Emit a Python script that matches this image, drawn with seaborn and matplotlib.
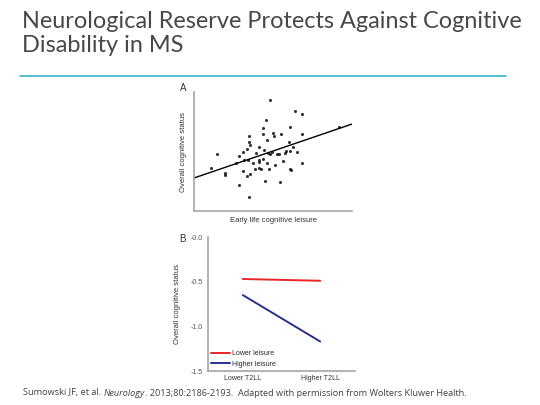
import numpy as np
import pandas as pd
import matplotlib
matplotlib.use("Agg")
import matplotlib.pyplot as plt
import seaborn as sns

# Panel A: early life cognitive leisure vs overall cognitive status
leisure = [228, 303, 322, 217, 208, 287, 435, 164, 208, 236, 238, 259, 322, 164, 218,
           68, 148, 158, 136, 168, 196, 211, 186, 222, 228, 235, 248, 255, 272, 276,
           283, 288, 295, 308, 150, 163, 176, 196, 196, 208, 126, 50, 94, 94, 148,
           159, 168, 182, 196, 200, 220, 226, 241, 265, 287, 289, 322, 136, 212, 258, 165]
cognition = [335, 301, 293, 273, 251, 253, 253, 227, 233, 235, 225, 231, 231, 207, 213,
             171, 177, 187, 165, 200, 193, 183, 173, 175, 171, 179, 171, 171, 173, 180,
             207, 180, 193, 177, 153, 153, 145, 153, 147, 157, 145, 129, 115, 109, 119,
             105, 111, 125, 129, 125, 145, 127, 139, 149, 125, 123, 143, 79, 91, 87, 43]

# Panel B: interaction of T2 lesion load and leisure
t2ll_levels = ["Lower T2LL", "Higher T2LL"]
lower_leisure = [-0.47, -0.49]
higher_leisure = [-0.65, -1.17]
b_yticks = [0.0, -0.5, -1.0, -1.5]
b_yticklabels = ["-0.0", "-0.5", "-1.0", "-1.5"]

sns.set_theme(style="white")
plt.rcParams["font.family"] = ["Liberation Sans", "DejaVu Sans"]

fig = plt.figure(figsize=(5.4, 4.05), dpi=100)
W, H = 540, 405

spine_col = "#a6a6a6"
text_col = "#404040"

# ---- title and rule ----
fig.text(22 / W, 1 - 22 / H, "Neurological Reserve Protects Against Cognitive",
         family=["Lato", "DejaVu Sans"], fontweight="normal", fontsize=16.9,
         color="#484848", va="center", ha="left")
fig.text(22 / W, 1 - 45 / H, "Disability in MS",
         family=["Lato", "DejaVu Sans"], fontweight="normal", fontsize=16.9,
         color="#484848", va="center", ha="left")
fig.add_artist(plt.Line2D([20 / W, 506 / W], [1 - 76 / H, 1 - 76 / H],
                          color="#3ab0c8", lw=1.2))

# ---- panel A ----
df_a = pd.DataFrame({"leisure": leisure, "cognition": cognition})
ax_a = fig.add_axes([194 / W, 1 - 211 / H, 158 / W, 119 / H])
ax_a.set_xlim(0, 473)
ax_a.set_ylim(0, 358)
sns.regplot(data=df_a, x="leisure", y="cognition", ax=ax_a, ci=None, truncate=False,
            scatter_kws={"s": 5, "color": "black", "linewidths": 0},
            line_kws={"color": "black", "lw": 1.0})
ax_a.set_xlim(0, 473)
ax_a.set_ylim(0, 358)
ax_a.set_xticks([])
ax_a.set_yticks([])
ax_a.set_xlabel("Early life cognitive leisure", fontsize=5.5, color="#333333", labelpad=4)
ax_a.set_ylabel("Overall cognitive status", fontsize=5.5, color="#333333", labelpad=5)
for side in ["top", "right"]:
    ax_a.spines[side].set_visible(False)
for side in ["left", "bottom"]:
    ax_a.spines[side].set_color(spine_col)
    ax_a.spines[side].set_linewidth(1.2)
fig.text(180 / W, 1 - 88 / H, "A", fontsize=7, color="#333333", va="center")

# ---- panel B ----
df_b = pd.DataFrame({
    "T2LL": t2ll_levels * 2,
    "status": lower_leisure + higher_leisure,
    "group": ["Lower leisure"] * 2 + ["Higher leisure"] * 2,
})
df_b["pos"] = df_b["T2LL"].map({lvl: i for i, lvl in enumerate(t2ll_levels)})
ax_b = fig.add_axes([208 / W, 1 - 371 / H, 147 / W, 134 / H])
sns.lineplot(data=df_b, x="pos", y="status", hue="group", ax=ax_b,
             palette={"Lower leisure": "#e8262b", "Higher leisure": "#27318b"},
             lw=1.4, legend=True)
ax_b.set_xlim(-0.45, 1.45)
ax_b.set_ylim(-1.5, 0.0)
ax_b.set_xticks(range(len(t2ll_levels)))
ax_b.set_xticklabels(t2ll_levels, fontsize=5, color="#333333")
ax_b.set_yticks(b_yticks)
ax_b.set_yticklabels(b_yticklabels, fontsize=5, color="#555555")
ax_b.tick_params(axis="y", direction="out", length=2, width=0.8, color=spine_col, pad=1.5)
ax_b.tick_params(axis="x", length=0, pad=3)
ax_b.set_xlabel("")
ax_b.set_ylabel("Overall cognitive status", fontsize=5.5, color="#333333", labelpad=7)
for side in ["top", "right"]:
    ax_b.spines[side].set_visible(False)
for side in ["left", "bottom"]:
    ax_b.spines[side].set_color(spine_col)
    ax_b.spines[side].set_linewidth(1.2)
leg = ax_b.legend(loc="lower left", frameon=False, fontsize=5, handlelength=2.6,
                  handletextpad=0.4, labelspacing=0.5, borderaxespad=0.1)
for line in leg.get_lines():
    line.set_linewidth(1.4)
fig.text(179 / W, 1 - 239 / H, "B", fontsize=7, color="#333333", va="center")

# ---- citation with italic journal name ----
cite_y = 1 - 393 / H
parts = [("Sumowski JF, et al. ", "normal"), ("Neurology", "italic"),
         (". 2013;80:2186-2193.  Adapted with permission from Wolters Kluwer Health.", "normal")]
x = 23 / W
renderer = fig.canvas.get_renderer()
for txt, style in parts:
    t = fig.text(x, cite_y, txt, fontsize=6.6, style=style, color=text_col,
                 family=["Open Sans", "DejaVu Sans"], va="center", ha="left")
    bb = t.get_window_extent(renderer=renderer)
    x = bb.x1 / fig.bbox.width

fig.savefig("out.png", dpi=100)
